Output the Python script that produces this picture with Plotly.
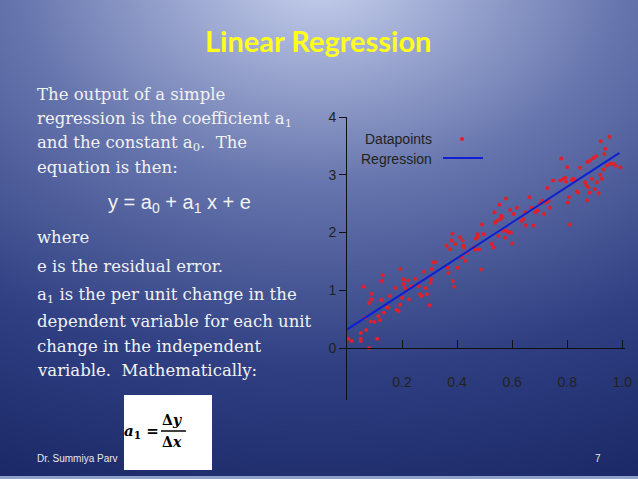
import numpy as np
import plotly.graph_objects as go

px_ = [0.005,0.017,0.05,0.05,0.05,0.06,0.065,0.07,0.08,0.08,0.09,0.09,0.086,0.1,0.11,0.114,0.12,0.126,0.126,0.13,0.134,0.144,0.15,0.156,0.175,0.18,0.187,0.193,0.193,0.2,0.205,0.205,0.21,0.217,0.222,0.225,0.235,0.247,0.26,0.266,0.27,0.28,0.286,0.29,0.3,0.304,0.305,0.308,0.314,0.32,0.362,0.365,0.368,0.375,0.38,0.383,0.384,0.39,0.393,0.402,0.41,0.415,0.42,0.423,0.425,0.43,0.435,0.46,0.465,0.468,0.474,0.475,0.48,0.487,0.49,0.496,0.526,0.532,0.536,0.538,0.544,0.55,0.554,0.556,0.56,0.565,0.568,0.574,0.578,0.58,0.587,0.593,0.596,0.6,0.605,0.617,0.635,0.641,0.648,0.65,0.663,0.67,0.677,0.684,0.692,0.702,0.71,0.716,0.723,0.728,0.732,0.738,0.75,0.775,0.778,0.787,0.793,0.796,0.8,0.802,0.806,0.81,0.817,0.823,0.83,0.835,0.84,0.847,0.865,0.87,0.872,0.874,0.877,0.88,0.884,0.89,0.896,0.9,0.905,0.908,0.914,0.92,0.922,0.926,0.932,0.935,0.938,0.944,0.954,0.956,0.968,0.974,0.993]
py_ = [0.16,0.12,0.26,0.16,0.12,1.06,0.52,0.31,0.0,0.78,0.84,0.94,0.46,0.45,0.16,0.55,0.48,0.83,1.16,1.26,0.61,0.70,0.70,0.9,1.04,0.66,0.64,1.37,0.75,0.87,1.19,1.11,1.04,1.01,1.17,0.84,1.07,1.2,1.07,0.93,0.9,1.32,1.04,0.93,0.74,1.13,1.19,1.37,1.48,1.49,1.77,1.39,1.3,1.71,1.86,1.98,1.16,1.06,1.8,1.39,1.92,1.57,1.86,1.77,1.74,1.51,1.65,1.74,1.7,1.89,1.92,1.97,1.71,1.36,2.14,1.97,1.8,1.74,2.35,2.17,2.2,1.94,2.48,2.23,2.29,2.26,2.03,1.91,2.59,2.03,2.0,2.39,2.0,1.81,2.32,2.43,2.2,2.23,2.35,2.12,2.61,2.43,2.12,2.35,2.38,2.5,2.55,2.32,2.52,2.77,2.55,2.43,2.9,2.9,3.28,2.93,2.95,2.88,3.13,2.52,2.61,2.14,2.91,2.93,2.9,2.71,2.69,3.12,2.87,2.82,2.56,3.22,2.78,2.69,3.25,2.93,3.29,2.75,3.32,2.87,2.68,3.0,3.58,2.93,3.09,3.36,3.45,3.16,3.66,3.19,3.19,3.16,3.13]
reg_x = [0.0, 0.99]
reg_y = [0.32, 3.38]
x_ticks = [0.2, 0.4, 0.6, 0.8, 1.0]
x_labels = ["0.2", "0.4", "0.6", "0.8", "1.0"]
y_ticks = [0, 1, 2, 3, 4]

W, H = 638, 479
fig = go.Figure()

gx = np.linspace(0, 1, 40)
gy = np.linspace(0, 1, 30)
GX, GY = np.meshgrid(gx, gy)
Z = np.sqrt(((GX - 0.5) * 1.0) ** 2 + ((GY - 1.05) * 1.1) ** 2)
fig.add_trace(go.Heatmap(x=gx, y=gy, z=Z, zsmooth="best", showscale=False, hoverinfo="skip",
                         colorscale=[[0, "#bcc6e6"], [0.35, "#6675ad"], [0.7, "#2f3f82"], [1, "#1a2866"]],
                         xaxis="x", yaxis="y"))

fig.add_trace(go.Scatter(x=px_, y=py_, mode="markers", name="Datapoints",
                         marker=dict(color="#e0202a", size=4), xaxis="x2", yaxis="y2"))
fig.add_trace(go.Scatter(x=reg_x, y=reg_y, mode="lines", name="Regression",
                         line=dict(color="#1020d0", width=2), xaxis="x2", yaxis="y2"))
fig.add_trace(go.Scatter(x=[0], y=[0], xaxis="x3", yaxis="y2", mode="markers",
                         marker=dict(opacity=0), hoverinfo="skip", showlegend=False))

def pyp(p):
    return 1 - p / H

fig.update_layout(
    width=W, height=H, margin=dict(l=0, r=0, t=0, b=0, autoexpand=False),
    paper_bgcolor="#1a2866", plot_bgcolor="rgba(0,0,0,0)", showlegend=False,
    xaxis=dict(domain=[0, 1], range=[0, 1], visible=False, anchor="y"),
    yaxis=dict(domain=[0, 1], range=[0, 1], visible=False, anchor="x"),
    xaxis2=dict(domain=[347 / W, 625 / W], range=[0, 1.01], anchor="free", position=pyp(372),
                showline=False, showgrid=False, zeroline=False, tickvals=x_ticks, ticktext=x_labels,
                ticks="", tickfont=dict(family="Liberation Sans", size=14, color="#222222")),
    xaxis3=dict(domain=[347 / W, 625 / W], range=[0, 1.01], anchor="free", position=pyp(348),
                overlaying="x2", showline=True, linecolor="#111111", linewidth=1, showgrid=False,
                zeroline=False, tickvals=x_ticks, showticklabels=False, ticks="inside", ticklen=8,
                tickcolor="#111111"),
    yaxis2=dict(domain=[pyp(400), pyp(117)], range=[-0.9, 4.0], showline=True, linecolor="#111111",
                showgrid=False, zeroline=False, tickvals=y_ticks, ticks="outside", ticklen=7,
                tickcolor="#111111", tickfont=dict(family="Liberation Sans", size=14, color="#222222"),
                anchor="x2"),
)

def ann(x, y, text, font, xanchor="left"):
    fig.add_annotation(x=x / W, y=pyp(y), xref="paper", yref="paper", text=text, showarrow=False,
                       xanchor=xanchor, yanchor="middle", font=font)

lf = dict(family="Liberation Sans", size=14, color="#222222")
ann(434, 139, "Datapoints", lf, "right")
ann(434, 159, "Regression", lf, "right")
fig.add_shape(type="circle", xref="paper", yref="paper", x0=460 / W, x1=464 / W, y0=pyp(141), y1=pyp(137),
              fillcolor="#e0202a", line=dict(width=0))
fig.add_shape(type="line", xref="paper", yref="paper", x0=443 / W, x1=483 / W, y0=pyp(158), y1=pyp(158),
              line=dict(color="#1020d0", width=2))

ann(318, 40, "<b>Linear Regression</b>", dict(family="Lato", size=29, color="#ffff1a"), "center")

tf = dict(family="DejaVu Serif", size=16.5, color="#f2f2f2")
lines = [
    (95, "The output of a simple"),
    (119, "regression is the coefficient a<sub>1</sub>"),
    (143, "and the constant a<sub>0</sub>.  The"),
    (167, "equation is then:"),
    (237, "where"),
    (266, "e is the residual error."),
    (295, "a<sub>1</sub> is the per unit change in the"),
    (321, "dependent variable for each unit"),
    (346, "change in the independent"),
    (370, "variable.  Mathematically:"),
]
for yy, t in lines:
    ann(35, yy, t, tf)
ann(106, 204, "y = a<sub>0</sub> + a<sub>1</sub> x + e", dict(family="Liberation Sans", size=20, color="#f2f2f2"))

fig.add_shape(type="rect", xref="paper", yref="paper", x0=124 / W, x1=212 / W, y0=pyp(470), y1=pyp(395),
              fillcolor="white", line=dict(width=0))
ann(161, 431, "<b><i>a</i><sub>1</sub> =</b>", dict(family="DejaVu Serif", size=15, color="black"), "right")
ann(172, 420, "<b>Δ<i>y</i></b>", dict(family="DejaVu Serif", size=14, color="black"), "center")
ann(172, 442, "<b>Δ<i>x</i></b>", dict(family="DejaVu Serif", size=14, color="black"), "center")
fig.add_shape(type="line", xref="paper", yref="paper", x0=161 / W, x1=186 / W, y0=pyp(431), y1=pyp(431),
              line=dict(color="black", width=1.5))

ff = dict(family="Liberation Sans", size=10, color="#e8e8e8")
ann(35, 458, "Dr. Summiya Parv", ff)
ann(598, 458, "7", ff, "center")
fig.add_shape(type="rect", xref="paper", yref="paper", x0=0, x1=1, y0=0, y1=pyp(476),
              fillcolor="#8ea0cc", line=dict(width=0))

fig.write_html("out.html", config={"displayModeBar": False},
               post_script="document.body.style.margin='0';")
